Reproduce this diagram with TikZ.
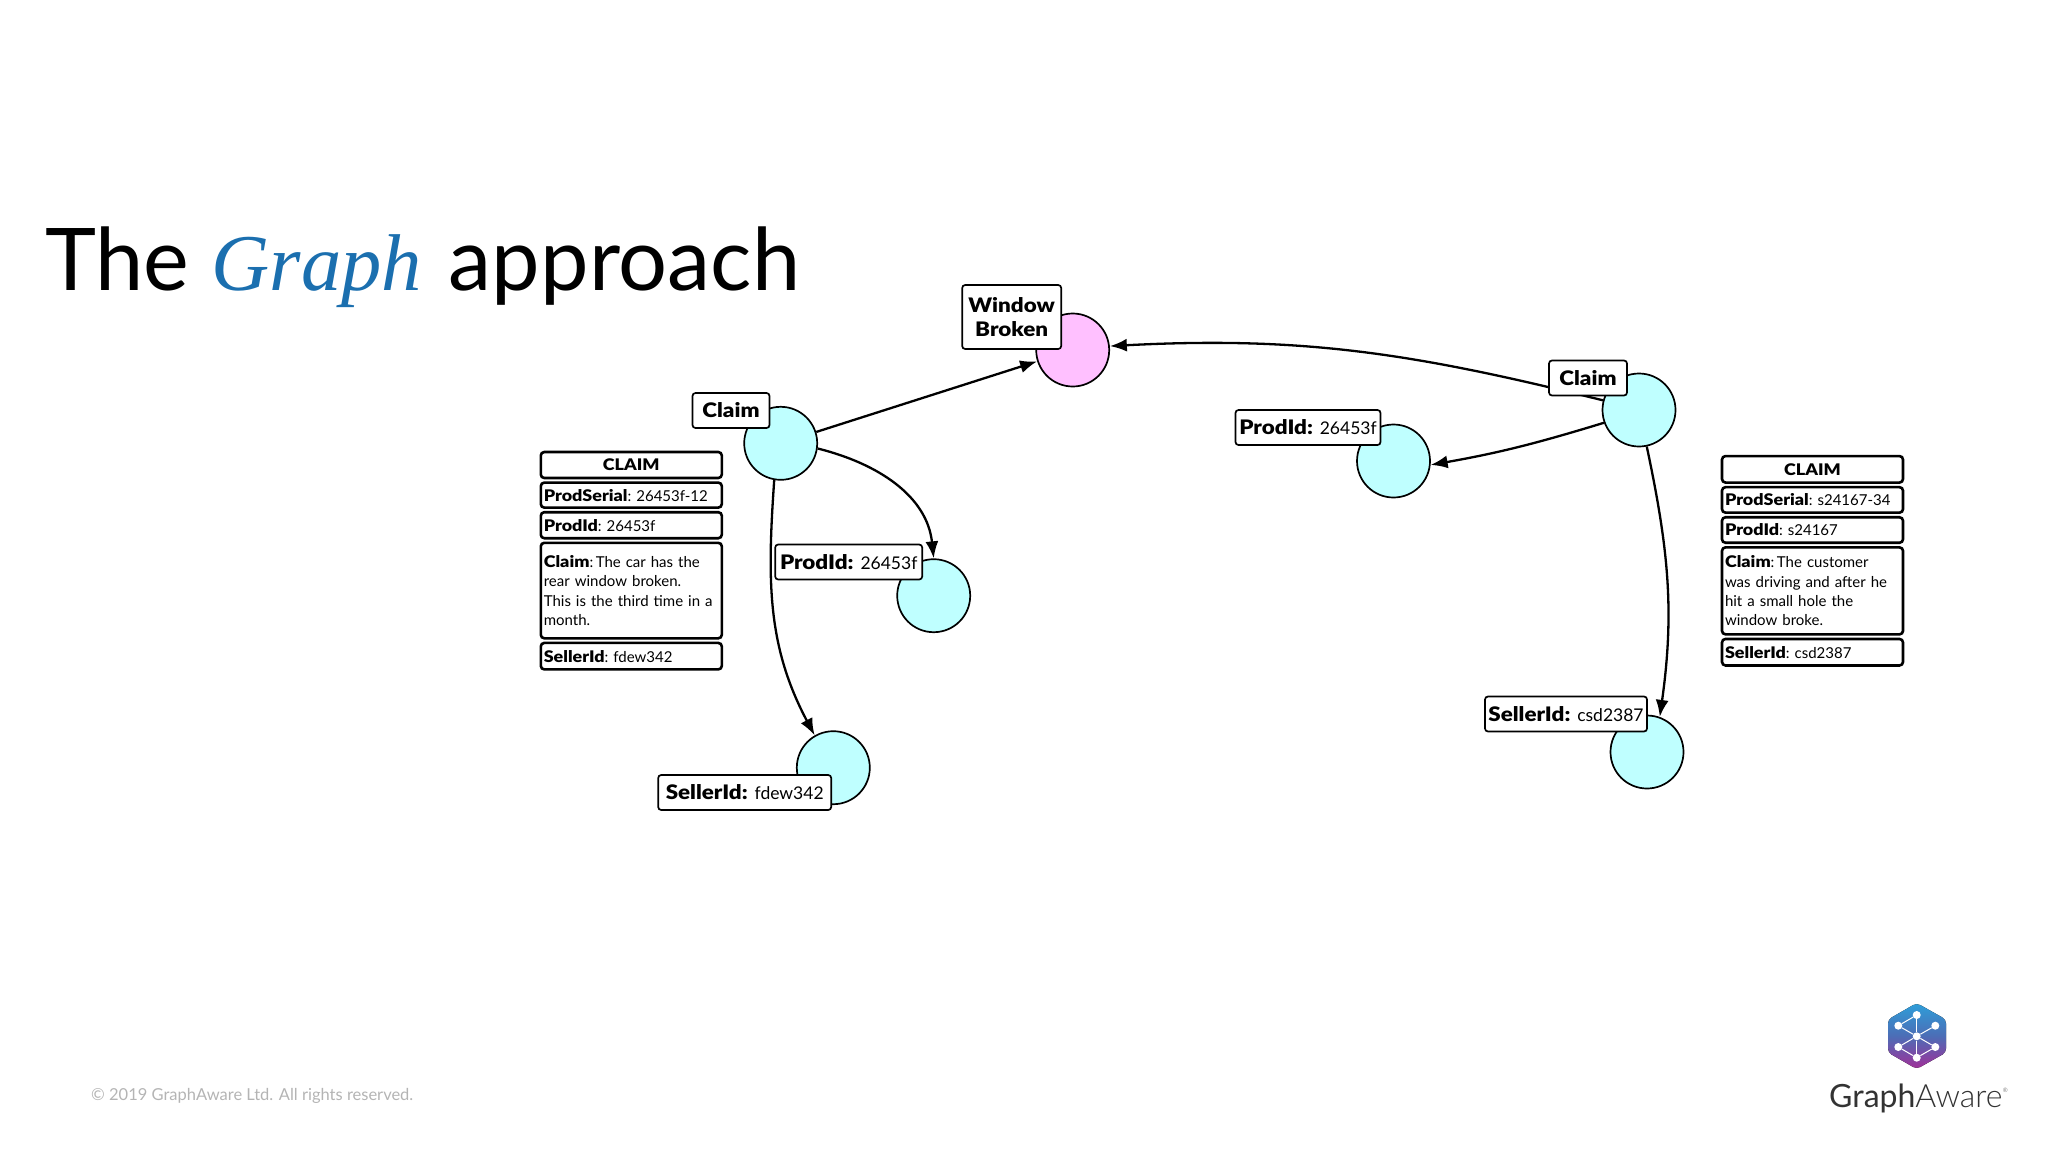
\documentclass[tikz,border=0pt]{standalone}
\usepackage{fontspec}
\setmainfont{Lato}
\newfontfamily\graphfont{Liberation Serif}
\newfontfamily\blackfont[FakeStretch=1.12]{Lato Black}
\newfontfamily\lightfont{Lato Light}
\usetikzlibrary{arrows.meta,positioning}

\definecolor{entcyan}{HTML}{BFFFFF}
\definecolor{entpink}{HTML}{FFC0FF}
\definecolor{graphblue}{HTML}{1B6FAF}
\definecolor{footgrey}{HTML}{B4B4B4}
\definecolor{hextop}{HTML}{2E9FD9}
\definecolor{hexmid}{HTML}{4C6DB6}
\definecolor{hexbot}{HTML}{A22F98}

\newcommand{\tagval}[1]{{\normalfont\fontsize{17.5}{24}\selectfont #1}}
\newcommand{\rowkey}[1]{{\fontsize{16}{19.4}\blackfont #1}}

\tikzset{
	ent/.style={circle,draw,line width=1.7,minimum size=73,inner sep=0,fill=entcyan},
	tag/.style={draw,fill=white,rounded corners=3,line width=1.7,inner sep=0,align=center,font=\fontsize{20}{24}\blackfont},
	row/.style={draw,fill=white,rounded corners=3.5,line width=2.6,inner xsep=3,inner ysep=0,text width=175,align=left,font=\fontsize{15}{19.4}\selectfont\frenchspacing},
	rel/.style={-{Latex[length=17,width=13]},line width=2.3},
	lnk/.style={white,line width=1}
}

\begin{document}
\begin{tikzpicture}[x=1pt,y=1pt]
	\useasboundingbox (0,0) rectangle (2048,-1152);

	\node[anchor=base west,inner sep=0,font=\fontsize{86.5}{86.5}\selectfont] (title) at (45,-290) {The {\fontsize{80.5}{80.5}\graphfont\itshape\color{graphblue}Graph}\hspace{5pt} approach};

	\begin{scope} % Entities
		\node[ent,fill=entpink] (window) at (1072.7,-350) {};
		\node[ent] (claimL) at (780.7,-443.3) {};
		\node[ent] (prodL) at (933.7,-595.7) {};
		\node[ent] (sellerL) at (833.3,-767.7) {};
		\node[ent] (claimR) at (1639,-410) {};
		\node[ent] (prodR) at (1393.5,-461) {};
		\node[ent] (sellerR) at (1647,-752) {};
	\end{scope}

	\begin{scope} % Relations
		\draw[rel] (claimL) -- (window);
		\draw[rel] (claimL.-8) to[out=-14,in=96] (prodL.90);
		\draw[rel] (claimL.-100) to[out=-94,in=118] (sellerL.120);
		\draw[rel] (claimR.165) to[out=166,in=3] (window.6);
		\draw[rel] (claimR.200) to[out=197,in=10] (prodR.-6);
		\draw[rel] (claimR.-78) to[out=-78,in=82] (sellerR.70);
	\end{scope}

	\begin{scope} % Labels of the entities
		\node[tag,minimum width=99,minimum height=64] (windowtag) at (1011.7,-317) {Window\\Broken};
		\node[tag,minimum width=77,minimum height=35] (claimLtag) at (731,-410.5) {Claim};
		\node[tag,minimum width=147,minimum height=35] (prodLtag) at (848.7,-562) {ProdId: \tagval{26453f}};
		\node[tag,minimum width=173,minimum height=35] (sellerLtag) at (744.7,-792.5) {SellerId: \tagval{fdew342}};
		\node[tag,minimum width=78,minimum height=35] (claimRtag) at (1588,-378) {Claim};
		\node[tag,minimum width=145,minimum height=35] (prodRtag) at (1308,-427.5) {ProdId: \tagval{26453f}};
		\node[tag,minimum width=162,minimum height=35] (sellerRtag) at (1566,-714) {SellerId: \tagval{csd2387}};
	\end{scope}

	\begin{scope}[node distance=2] % Left table
		\node[row,minimum height=26,align=center,font=\fontsize{16}{20}\blackfont] (tabL1) at (631.3,-465) {CLAIM};
		\node[row,minimum height=25,below=of tabL1] (tabL2) {\rowkey{ProdSerial}: 26453f-12};
		\node[row,minimum height=26,below=of tabL2] (tabL3) {\rowkey{ProdId}: 26453f};
		\node[row,minimum height=95.5,below=of tabL3] (tabL4) {\rowkey{Claim}:\,The car has the\\rear window broken.\\This is the third time in a\\month.};
		\node[row,minimum height=26.5,below=of tabL4] (tabL5) {\rowkey{SellerId}: fdew342};
	\end{scope}

	\begin{scope}[node distance=2] % Right table
		\node[row,minimum height=26.5,align=center,font=\fontsize{16}{20}\blackfont] (tabR1) at (1812.5,-469.3) {CLAIM};
		\node[row,minimum height=25.5,below=of tabR1] (tabR2) {\rowkey{ProdSerial}: s24167-34};
		\node[row,minimum height=25.5,below=of tabR2] (tabR3) {\rowkey{ProdId}: s24167};
		\node[row,minimum height=87,below=of tabR3] (tabR4) {\rowkey{Claim}:\,The customer\\was driving and after he\\hit a small hole the\\window broke.};
		\node[row,minimum height=26.5,below=of tabR4] (tabR5) {\rowkey{SellerId}: csd2387};
	\end{scope}

	\node[anchor=base west,inner sep=0,text=footgrey,font=\fontsize{16.5}{20}\selectfont] (foot) at (91,-1100) {© 2019 GraphAware Ltd. All rights reserved.};

	\begin{scope} % Logo
		\fill[rounded corners=4,top color=hextop,bottom color=hexbot,middle color=hexmid] (1916.7,-1003)--(1946,-1019.5)--(1946,-1052.5)--(1916.7,-1069)--(1888,-1052.5)--(1888,-1019.5)--cycle;
		\foreach \name/\x/\y in {lt/1916.7/1015,lul/1898.3/1025.7,lur/1935.3/1025.7,lc/1916.7/1036.3,lll/1898.3/1047,llr/1935.3/1047,lb/1916.7/1057.7}
			\node[circle,fill=white,inner sep=0,minimum size=8] (\name) at (\x,-\y) {};
		\foreach \a/\b in {lt/lul,lt/lc,lul/lc,lur/lc,lc/lll,lc/llr,lc/lb,lll/lb,llr/lb}
			\draw[lnk] (\a) -- (\b);
		\node[anchor=base west,inner sep=0,text=black!80,font=\fontsize{32}{32}\selectfont] (brand) at (1829,-1107) {Graph{\lightfont Aware}};
		\node[anchor=south west,inner sep=0,text=black!50,font=\fontsize{6}{6}\selectfont] (regmark) at (brand.north east) [yshift=-9] {®};
	\end{scope}
\end{tikzpicture}
\end{document}
